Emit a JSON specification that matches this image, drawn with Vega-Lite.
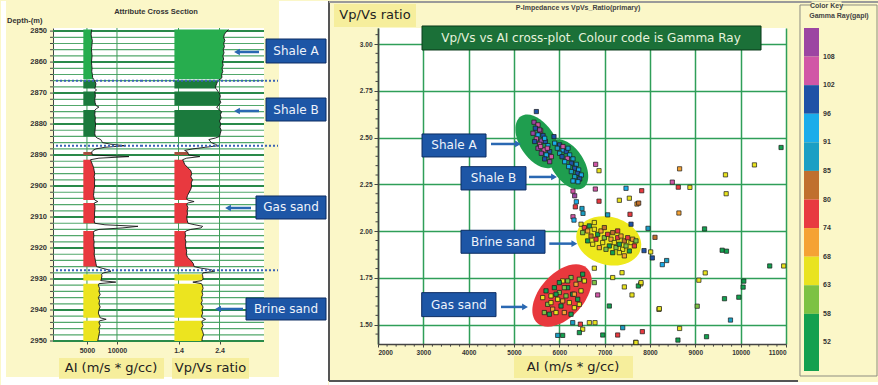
{
"$schema": "https://vega.github.io/schema/vega-lite/v6.json",
"background": "#fbf7c8",
"padding": 0,
"autosize": {"type": "pad"},
"bounds": "flush",
"spacing": 0,
"resolve": {"scale": {"color": "independent"}},
"config": {"view": {"stroke": null}, "axis": {"labelFont": "Liberation Sans", "labelFontWeight": "bold", "labelColor": "#333333", "domainColor": "#444444", "tickColor": "#444444"}},
"datasets": {
"logs": [
{"d":2849.5,"ai":5800,"vp":2.62,"seg":"A1","f":"shaleA"},
{"d":2850,"ai":5750,"vp":2.58,"seg":"A1","f":"shaleA"},
{"d":2851,"ai":5700,"vp":2.52,"seg":"A1","f":"shaleA"},
{"d":2852,"ai":5750,"vp":2.50,"seg":"A1","f":"shaleA"},
{"d":2853,"ai":5900,"vp":2.53,"seg":"A1","f":"shaleA"},
{"d":2854,"ai":5850,"vp":2.50,"seg":"A1","f":"shaleA"},
{"d":2855,"ai":5800,"vp":2.52,"seg":"A1","f":"shaleA"},
{"d":2856,"ai":5750,"vp":2.49,"seg":"A1","f":"shaleA"},
{"d":2857,"ai":5800,"vp":2.51,"seg":"A1","f":"shaleA"},
{"d":2858,"ai":5850,"vp":2.48,"seg":"A1","f":"shaleA"},
{"d":2859,"ai":5800,"vp":2.50,"seg":"A1","f":"shaleA"},
{"d":2860,"ai":5750,"vp":2.47,"seg":"A1","f":"shaleA"},
{"d":2861,"ai":5800,"vp":2.49,"seg":"A1","f":"shaleA"},
{"d":2862,"ai":5850,"vp":2.46,"seg":"A1","f":"shaleA"},
{"d":2863,"ai":5800,"vp":2.48,"seg":"A1","f":"shaleA"},
{"d":2864,"ai":5900,"vp":2.45,"seg":"A1","f":"shaleA"},
{"d":2865,"ai":5950,"vp":2.46,"seg":"A1","f":"shaleA"},
{"d":2865.5,"ai":6100,"vp":2.42,"seg":"A1","f":"shaleA"},
{"d":2866,"ai":6300,"vp":2.36,"seg":"B1","f":"shaleB"},
{"d":2867,"ai":6500,"vp":2.33,"seg":"B1","f":"shaleB"},
{"d":2868,"ai":6400,"vp":2.30,"seg":"B1","f":"shaleB"},
{"d":2868.5,"ai":6300,"vp":2.31,"seg":"B1","f":"shaleB"},
{"d":2869,"ai":6600,"vp":2.34,"seg":"none","f":"none"},
{"d":2869.5,"ai":6300,"vp":2.36,"seg":"B2","f":"shaleB"},
{"d":2870,"ai":6350,"vp":2.40,"seg":"B2","f":"shaleB"},
{"d":2871,"ai":6400,"vp":2.42,"seg":"B2","f":"shaleB"},
{"d":2872,"ai":6300,"vp":2.40,"seg":"B2","f":"shaleB"},
{"d":2873,"ai":6350,"vp":2.43,"seg":"B2","f":"shaleB"},
{"d":2874,"ai":6500,"vp":2.38,"seg":"B2","f":"shaleB"},
{"d":2874.5,"ai":7000,"vp":2.33,"seg":"none","f":"none"},
{"d":2875,"ai":6600,"vp":2.36,"seg":"none","f":"none"},
{"d":2875.5,"ai":6300,"vp":2.40,"seg":"B3","f":"shaleB"},
{"d":2876,"ai":6350,"vp":2.45,"seg":"B3","f":"shaleB"},
{"d":2877,"ai":6300,"vp":2.42,"seg":"B3","f":"shaleB"},
{"d":2878,"ai":6400,"vp":2.44,"seg":"B3","f":"shaleB"},
{"d":2879,"ai":6350,"vp":2.40,"seg":"B3","f":"shaleB"},
{"d":2880,"ai":6450,"vp":2.43,"seg":"B3","f":"shaleB"},
{"d":2881,"ai":6400,"vp":2.41,"seg":"B3","f":"shaleB"},
{"d":2882,"ai":6350,"vp":2.44,"seg":"B3","f":"shaleB"},
{"d":2883,"ai":6300,"vp":2.42,"seg":"B3","f":"shaleB"},
{"d":2884,"ai":6400,"vp":2.40,"seg":"B3","f":"shaleB"},
{"d":2884.5,"ai":6700,"vp":2.30,"seg":"none","f":"none"},
{"d":2885,"ai":7300,"vp":2.14,"seg":"none","f":"none"},
{"d":2886,"ai":7600,"vp":2.20,"seg":"none","f":"none"},
{"d":2886.5,"ai":9000,"vp":2.30,"seg":"none","f":"none"},
{"d":2887,"ai":11300,"vp":2.36,"seg":"none","f":"none"},
{"d":2887.5,"ai":8000,"vp":2.05,"seg":"none","f":"none"},
{"d":2888,"ai":6500,"vp":1.75,"seg":"none","f":"none"},
{"d":2888.5,"ai":6000,"vp":1.55,"seg":"none","f":"none"},
{"d":2889,"ai":5800,"vp":1.62,"seg":"M","f":"mix"},
{"d":2890,"ai":5900,"vp":1.65,"seg":"M","f":"mix"},
{"d":2890.5,"ai":12000,"vp":1.92,"seg":"none","f":"none"},
{"d":2891,"ai":7000,"vp":1.60,"seg":"none","f":"none"},
{"d":2891.5,"ai":5600,"vp":1.50,"seg":"G1","f":"gas"},
{"d":2892,"ai":5700,"vp":1.52,"seg":"G1","f":"gas"},
{"d":2893,"ai":5900,"vp":1.55,"seg":"G1","f":"gas"},
{"d":2894,"ai":6100,"vp":1.62,"seg":"G1","f":"gas"},
{"d":2895,"ai":6200,"vp":1.70,"seg":"G1","f":"gas"},
{"d":2896,"ai":6300,"vp":1.72,"seg":"G1","f":"gas"},
{"d":2897,"ai":6200,"vp":1.70,"seg":"G1","f":"gas"},
{"d":2898,"ai":6300,"vp":1.74,"seg":"G1","f":"gas"},
{"d":2899,"ai":6250,"vp":1.71,"seg":"G1","f":"gas"},
{"d":2900,"ai":6300,"vp":1.72,"seg":"G1","f":"gas"},
{"d":2901,"ai":6200,"vp":1.70,"seg":"G1","f":"gas"},
{"d":2902,"ai":6150,"vp":1.66,"seg":"G1","f":"gas"},
{"d":2903,"ai":6100,"vp":1.62,"seg":"G1","f":"gas"},
{"d":2904,"ai":6200,"vp":1.60,"seg":"G1","f":"gas"},
{"d":2904.5,"ai":6300,"vp":1.62,"seg":"G1","f":"gas"},
{"d":2905,"ai":6800,"vp":1.78,"seg":"none","f":"none"},
{"d":2905.5,"ai":6200,"vp":1.62,"seg":"G2","f":"gas"},
{"d":2906,"ai":6300,"vp":1.60,"seg":"G2","f":"gas"},
{"d":2907,"ai":6350,"vp":1.63,"seg":"G2","f":"gas"},
{"d":2908,"ai":6300,"vp":1.61,"seg":"G2","f":"gas"},
{"d":2909,"ai":6250,"vp":1.62,"seg":"G2","f":"gas"},
{"d":2910,"ai":6300,"vp":1.60,"seg":"G2","f":"gas"},
{"d":2911,"ai":6200,"vp":1.61,"seg":"G2","f":"gas"},
{"d":2912,"ai":6300,"vp":1.63,"seg":"G2","f":"gas"},
{"d":2912.5,"ai":8000,"vp":1.80,"seg":"none","f":"none"},
{"d":2913,"ai":13500,"vp":1.99,"seg":"none","f":"none"},
{"d":2913.5,"ai":11000,"vp":1.95,"seg":"none","f":"none"},
{"d":2914,"ai":7000,"vp":1.70,"seg":"none","f":"none"},
{"d":2914.5,"ai":6200,"vp":1.58,"seg":"G3","f":"gas"},
{"d":2915,"ai":6100,"vp":1.56,"seg":"G3","f":"gas"},
{"d":2916,"ai":6150,"vp":1.57,"seg":"G3","f":"gas"},
{"d":2917,"ai":6100,"vp":1.56,"seg":"G3","f":"gas"},
{"d":2918,"ai":6200,"vp":1.58,"seg":"G3","f":"gas"},
{"d":2919,"ai":6150,"vp":1.57,"seg":"G3","f":"gas"},
{"d":2920,"ai":6200,"vp":1.58,"seg":"G3","f":"gas"},
{"d":2921,"ai":6250,"vp":1.60,"seg":"G3","f":"gas"},
{"d":2922,"ai":6200,"vp":1.59,"seg":"G3","f":"gas"},
{"d":2923,"ai":6300,"vp":1.62,"seg":"G3","f":"gas"},
{"d":2924,"ai":6400,"vp":1.70,"seg":"G3","f":"gas"},
{"d":2925,"ai":6500,"vp":1.76,"seg":"G3","f":"gas"},
{"d":2926,"ai":6600,"vp":1.78,"seg":"G3","f":"gas"},
{"d":2926.5,"ai":7500,"vp":1.95,"seg":"none","f":"none"},
{"d":2927,"ai":8500,"vp":2.20,"seg":"none","f":"none"},
{"d":2927.5,"ai":9000,"vp":2.28,"seg":"none","f":"none"},
{"d":2928,"ai":7800,"vp":2.00,"seg":"none","f":"none"},
{"d":2928.5,"ai":7400,"vp":1.98,"seg":"Y1","f":"brine"},
{"d":2929,"ai":7500,"vp":1.99,"seg":"Y1","f":"brine"},
{"d":2930,"ai":7400,"vp":2.00,"seg":"Y1","f":"brine"},
{"d":2930.5,"ai":7300,"vp":1.97,"seg":"Y1","f":"brine"},
{"d":2931,"ai":9800,"vp":1.75,"seg":"none","f":"none"},
{"d":2931.5,"ai":7000,"vp":1.96,"seg":"Y2","f":"brine"},
{"d":2932,"ai":6900,"vp":1.98,"seg":"Y2","f":"brine"},
{"d":2933,"ai":7100,"vp":2.00,"seg":"Y2","f":"brine"},
{"d":2934,"ai":7000,"vp":1.97,"seg":"Y2","f":"brine"},
{"d":2935,"ai":7200,"vp":1.99,"seg":"Y2","f":"brine"},
{"d":2936,"ai":6900,"vp":1.96,"seg":"Y2","f":"brine"},
{"d":2937,"ai":7100,"vp":1.98,"seg":"Y2","f":"brine"},
{"d":2938,"ai":7000,"vp":1.95,"seg":"Y2","f":"brine"},
{"d":2939,"ai":7200,"vp":2.00,"seg":"Y2","f":"brine"},
{"d":2940,"ai":7000,"vp":1.97,"seg":"Y2","f":"brine"},
{"d":2941,"ai":6900,"vp":1.99,"seg":"Y2","f":"brine"},
{"d":2942,"ai":7100,"vp":1.96,"seg":"Y2","f":"brine"},
{"d":2942.5,"ai":7200,"vp":1.98,"seg":"Y2","f":"brine"},
{"d":2943,"ai":8200,"vp":2.06,"seg":"none","f":"none"},
{"d":2943.5,"ai":7100,"vp":1.98,"seg":"Y3","f":"brine"},
{"d":2944,"ai":7000,"vp":1.97,"seg":"Y3","f":"brine"},
{"d":2945,"ai":7200,"vp":2.00,"seg":"Y3","f":"brine"},
{"d":2946,"ai":7000,"vp":1.96,"seg":"Y3","f":"brine"},
{"d":2947,"ai":7100,"vp":1.99,"seg":"Y3","f":"brine"},
{"d":2948,"ai":7000,"vp":2.01,"seg":"Y3","f":"brine"},
{"d":2949,"ai":6900,"vp":1.98,"seg":"Y3","f":"brine"},
{"d":2950,"ai":6800,"vp":1.97,"seg":"Y3","f":"brine"}
],
"hgrid": [{"d":2850},{"d":2852},{"d":2854},{"d":2856},{"d":2858},{"d":2860},{"d":2862},{"d":2864},{"d":2866},{"d":2868},{"d":2870},{"d":2872},{"d":2874},{"d":2876},{"d":2878},{"d":2880},{"d":2882},{"d":2884},{"d":2886},{"d":2888},{"d":2890},{"d":2892},{"d":2894},{"d":2896},{"d":2898},{"d":2900},{"d":2902},{"d":2904},{"d":2906},{"d":2908},{"d":2910},{"d":2912},{"d":2914},{"d":2916},{"d":2918},{"d":2920},{"d":2922},{"d":2924},{"d":2926},{"d":2928},{"d":2930},{"d":2932},{"d":2934},{"d":2936},{"d":2938},{"d":2940},{"d":2942},{"d":2944},{"d":2946},{"d":2948},{"d":2950}],
"xMinor": [{"v":2200},{"v":2400},{"v":2600},{"v":2800},{"v":3200},{"v":3400},{"v":3600},{"v":3800},{"v":4200},{"v":4400},{"v":4600},{"v":4800},{"v":5200},{"v":5400},{"v":5600},{"v":5800},{"v":6200},{"v":6400},{"v":6600},{"v":6800},{"v":7200},{"v":7400},{"v":7600},{"v":7800},{"v":8200},{"v":8400},{"v":8600},{"v":8800},{"v":9200},{"v":9400},{"v":9600},{"v":9800},{"v":10200},{"v":10400},{"v":10600},{"v":10800}],
"yMinor": [{"v":1.45},{"v":1.55},{"v":1.6},{"v":1.65},{"v":1.7},{"v":1.8},{"v":1.85},{"v":1.9},{"v":1.95},{"v":2.05},{"v":2.1},{"v":2.15},{"v":2.2},{"v":2.3},{"v":2.35},{"v":2.4},{"v":2.45},{"v":2.55},{"v":2.6},{"v":2.65},{"v":2.7},{"v":2.8},{"v":2.85},{"v":2.9},{"v":2.95},{"v":3.05}],
"points": [
{"ai":5441,"vp":2.582,"gr":110},{"ai":5529,"vp":2.568,"gr":105},{"ai":5471,"vp":2.550,"gr":99},{"ai":5588,"vp":2.536,"gr":105},{"ai":5419,"vp":2.523,"gr":110},{"ai":5529,"vp":2.514,"gr":93},{"ai":5640,"vp":2.511,"gr":99},{"ai":5493,"vp":2.493,"gr":105},{"ai":5603,"vp":2.482,"gr":110},{"ai":5691,"vp":2.479,"gr":99},{"ai":5566,"vp":2.464,"gr":105},{"ai":5750,"vp":2.457,"gr":93},{"ai":5529,"vp":2.443,"gr":110},{"ai":5662,"vp":2.434,"gr":105},{"ai":5787,"vp":2.425,"gr":99},{"ai":5603,"vp":2.416,"gr":110},{"ai":5713,"vp":2.407,"gr":93},{"ai":5824,"vp":2.398,"gr":105},{"ai":5676,"vp":2.386,"gr":99},{"ai":5787,"vp":2.371,"gr":110},{"ai":5588,"vp":2.452,"gr":105},{"ai":5456,"vp":2.479,"gr":99},{"ai":5676,"vp":2.496,"gr":93},{"ai":5566,"vp":2.541,"gr":110},{"ai":5735,"vp":2.443,"gr":105},
{"ai":5897,"vp":2.470,"gr":93},{"ai":6007,"vp":2.461,"gr":99},{"ai":5956,"vp":2.443,"gr":88},{"ai":6081,"vp":2.434,"gr":93},{"ai":6154,"vp":2.425,"gr":99},{"ai":6007,"vp":2.416,"gr":88},{"ai":6228,"vp":2.407,"gr":93},{"ai":6059,"vp":2.398,"gr":99},{"ai":6176,"vp":2.389,"gr":105},{"ai":6301,"vp":2.386,"gr":88},{"ai":6118,"vp":2.371,"gr":93},{"ai":6265,"vp":2.363,"gr":99},{"ai":6375,"vp":2.357,"gr":88},{"ai":6206,"vp":2.345,"gr":93},{"ai":6338,"vp":2.336,"gr":99},{"ai":6426,"vp":2.327,"gr":93},{"ai":6265,"vp":2.318,"gr":88},{"ai":6397,"vp":2.309,"gr":99},{"ai":6485,"vp":2.300,"gr":93},{"ai":6338,"vp":2.291,"gr":88},{"ai":6449,"vp":2.279,"gr":99},{"ai":6301,"vp":2.268,"gr":93},{"ai":6081,"vp":2.452,"gr":105},{"ai":6191,"vp":2.443,"gr":88},{"ai":6412,"vp":2.264,"gr":93},
{"ai":6478,"vp":2.037,"gr":65},{"ai":6552,"vp":2.019,"gr":77},{"ai":6515,"vp":1.992,"gr":60},{"ai":6625,"vp":2.001,"gr":70},{"ai":6662,"vp":2.028,"gr":55},{"ai":6699,"vp":1.974,"gr":82},{"ai":6772,"vp":2.010,"gr":65},{"ai":6809,"vp":1.957,"gr":77},{"ai":6846,"vp":1.983,"gr":55},{"ai":6919,"vp":2.001,"gr":70},{"ai":6956,"vp":1.939,"gr":65},{"ai":6993,"vp":1.965,"gr":60},{"ai":7066,"vp":1.983,"gr":77},{"ai":7103,"vp":1.921,"gr":55},{"ai":7140,"vp":1.957,"gr":70},{"ai":7177,"vp":1.992,"gr":82},{"ai":7213,"vp":1.939,"gr":65},{"ai":7250,"vp":1.912,"gr":60},{"ai":7287,"vp":1.965,"gr":77},{"ai":7324,"vp":1.930,"gr":55},{"ai":7361,"vp":1.974,"gr":70},{"ai":7397,"vp":1.903,"gr":65},{"ai":7434,"vp":1.948,"gr":82},{"ai":7471,"vp":1.921,"gr":60},{"ai":7508,"vp":1.965,"gr":77},{"ai":7544,"vp":1.894,"gr":55},{"ai":7581,"vp":1.939,"gr":65},{"ai":7618,"vp":1.957,"gr":70},{"ai":7655,"vp":1.921,"gr":77},{"ai":7691,"vp":1.948,"gr":60},{"ai":6625,"vp":1.948,"gr":55},{"ai":6736,"vp":1.930,"gr":65},{"ai":6882,"vp":1.912,"gr":70},{"ai":7029,"vp":1.903,"gr":60},{"ai":7177,"vp":1.885,"gr":55},{"ai":7324,"vp":1.885,"gr":65},{"ai":7434,"vp":1.868,"gr":70},{"ai":7287,"vp":2.001,"gr":77},{"ai":6993,"vp":2.019,"gr":82},{"ai":6772,"vp":2.046,"gr":65},
{"ai":5633,"vp":1.645,"gr":65},{"ai":5706,"vp":1.681,"gr":55},{"ai":5743,"vp":1.609,"gr":60},{"ai":5816,"vp":1.654,"gr":65},{"ai":5853,"vp":1.583,"gr":70},{"ai":5890,"vp":1.698,"gr":55},{"ai":5963,"vp":1.636,"gr":65},{"ai":6000,"vp":1.672,"gr":60},{"ai":6037,"vp":1.600,"gr":55},{"ai":6074,"vp":1.734,"gr":65},{"ai":6110,"vp":1.565,"gr":70},{"ai":6147,"vp":1.654,"gr":60},{"ai":6184,"vp":1.698,"gr":55},{"ai":6221,"vp":1.618,"gr":65},{"ai":6258,"vp":1.752,"gr":60},{"ai":6294,"vp":1.663,"gr":55},{"ai":6331,"vp":1.591,"gr":65},{"ai":6368,"vp":1.716,"gr":70},{"ai":6405,"vp":1.636,"gr":55},{"ai":6441,"vp":1.743,"gr":60},{"ai":6478,"vp":1.681,"gr":65},{"ai":6515,"vp":1.770,"gr":55},{"ai":6552,"vp":1.734,"gr":65},{"ai":5669,"vp":1.565,"gr":60},{"ai":5780,"vp":1.556,"gr":55},{"ai":5927,"vp":1.565,"gr":65},{"ai":6074,"vp":1.627,"gr":70},{"ai":6258,"vp":1.556,"gr":55},{"ai":6110,"vp":1.698,"gr":60},{"ai":6441,"vp":1.609,"gr":65},{"ai":6000,"vp":1.725,"gr":55},{"ai":5816,"vp":1.618,"gr":65},{"ai":6184,"vp":1.734,"gr":60},{"ai":6331,"vp":1.663,"gr":70},{"ai":5927,"vp":1.663,"gr":55},
{"ai":10891,"vp":2.447,"gr":55},{"ai":10304,"vp":2.354,"gr":65},{"ai":9665,"vp":2.301,"gr":65},{"ai":9680,"vp":2.200,"gr":66},{"ai":8653,"vp":2.333,"gr":70},{"ai":8492,"vp":2.262,"gr":104},{"ai":8624,"vp":2.235,"gr":78},{"ai":8880,"vp":2.234,"gr":64},{"ai":7817,"vp":2.216,"gr":77},{"ai":8638,"vp":2.097,"gr":69},{"ai":9203,"vp":2.012,"gr":55},{"ai":7956,"vp":2.015,"gr":88},{"ai":8110,"vp":1.967,"gr":82},{"ai":7868,"vp":1.896,"gr":98},{"ai":8051,"vp":1.857,"gr":97},{"ai":8015,"vp":1.889,"gr":64},{"ai":8271,"vp":1.821,"gr":94},{"ai":8367,"vp":1.843,"gr":88},{"ai":9592,"vp":1.898,"gr":56},{"ai":9687,"vp":1.893,"gr":56},{"ai":10641,"vp":1.814,"gr":57},{"ai":10949,"vp":1.814,"gr":65},{"ai":9218,"vp":1.777,"gr":64},{"ai":9078,"vp":1.738,"gr":66},{"ai":10069,"vp":1.733,"gr":54},{"ai":10054,"vp":1.701,"gr":55},{"ai":9959,"vp":1.647,"gr":57},{"ai":9643,"vp":1.639,"gr":56},{"ai":7795,"vp":1.718,"gr":64},{"ai":8198,"vp":1.582,"gr":63},{"ai":9042,"vp":1.599,"gr":60},{"ai":9775,"vp":1.525,"gr":90},{"ai":8653,"vp":1.480,"gr":65},{"ai":7831,"vp":1.463,"gr":76},{"ai":8616,"vp":1.418,"gr":55},{"ai":9247,"vp":1.436,"gr":56},{"ai":7685,"vp":1.406,"gr":64},
{"ai":5493,"vp":2.639,"gr":98},{"ai":5882,"vp":2.505,"gr":97},{"ai":6801,"vp":2.357,"gr":104},{"ai":6875,"vp":2.323,"gr":65},{"ai":6794,"vp":2.225,"gr":104},{"ai":6875,"vp":2.160,"gr":77},{"ai":7471,"vp":2.229,"gr":93},{"ai":7324,"vp":2.165,"gr":66},{"ai":7544,"vp":2.176,"gr":65},{"ai":7713,"vp":2.145,"gr":72},{"ai":7750,"vp":2.150,"gr":82},{"ai":7559,"vp":2.090,"gr":78},{"ai":7067,"vp":2.087,"gr":88},{"ai":7581,"vp":2.037,"gr":97},{"ai":6301,"vp":2.214,"gr":104},{"ai":6338,"vp":2.189,"gr":110},{"ai":6375,"vp":2.157,"gr":93},{"ai":6353,"vp":2.130,"gr":77},{"ai":6301,"vp":2.077,"gr":104},{"ai":6522,"vp":2.095,"gr":90},{"ai":6500,"vp":2.121,"gr":86},{"ai":6323,"vp":2.059,"gr":92},{"ai":6772,"vp":1.802,"gr":64},{"ai":7177,"vp":1.752,"gr":65},{"ai":7383,"vp":1.778,"gr":66},{"ai":7434,"vp":1.702,"gr":64},{"ai":7743,"vp":1.707,"gr":57},{"ai":7802,"vp":1.725,"gr":63},{"ai":7603,"vp":1.659,"gr":66},{"ai":6846,"vp":1.659,"gr":104},{"ai":6772,"vp":1.725,"gr":60},{"ai":7103,"vp":1.600,"gr":55},{"ai":8206,"vp":1.586,"gr":63},{"ai":6662,"vp":1.511,"gr":64},{"ai":6787,"vp":1.511,"gr":63},{"ai":6464,"vp":1.503,"gr":76},{"ai":6515,"vp":1.476,"gr":64},{"ai":6442,"vp":1.458,"gr":55},{"ai":6295,"vp":1.511,"gr":86},{"ai":5964,"vp":1.443,"gr":85},{"ai":6074,"vp":1.443,"gr":57},{"ai":6957,"vp":1.445,"gr":56},{"ai":7287,"vp":1.445,"gr":77},{"ai":7398,"vp":1.484,"gr":87},{"ai":7691,"vp":1.405,"gr":64}
],
"ellipses": [{"name":"shaleA","ai":5515,"vp":2.480},{"name":"shaleB","ai":6191,"vp":2.357},{"name":"brine","ai":7090,"vp":1.948},{"name":"gas","ai":6059,"vp":1.656}],
"xpLabels": [
{"label":"Shale A","x1":2971,"x2":4383,"y1":2.5193,"y2":2.3964,"xc":3677,"yc":2.4578,"ax1":4493,"ax2":5088,"ay":2.4658},
{"label":"Shale B","x1":3831,"x2":5265,"y1":2.3446,"y2":2.2201,"xc":4548,"yc":2.2826,"ax1":5331,"ax2":5883,"ay":2.2896},
{"label":"Brine sand","x1":3831,"x2":5684,"y1":2.0048,"y2":1.8819,"xc":4758,"yc":1.9434,"ax1":5779,"ax2":6331,"ay":1.9333},
{"label":"Gas sand","x1":2964,"x2":4603,"y1":1.6715,"y2":1.5433,"xc":3783,"yc":1.6074,"ax1":4713,"ax2":5243,"ay":1.5951}
],
"logLabels": [
{"label":"Shale A","x1":3.534,"x2":4.997,"y1":2852.55,"y2":2860.29,"xc":4.265,"yc":2856.42,"ax1":3.363,"ax2":2.826,"ay":2856.74},
{"label":"Shale B","x1":3.534,"x2":4.997,"y1":2871.59,"y2":2879.01,"xc":4.265,"yc":2875.30,"ax1":3.363,"ax2":2.826,"ay":2875.78},
{"label":"Gas sand","x1":3.29,"x2":4.997,"y1":2903.21,"y2":2910.63,"xc":4.143,"yc":2906.92,"ax1":3.168,"ax2":2.607,"ay":2907.08},
{"label":"Brine sand","x1":3.046,"x2":4.997,"y1":2936.12,"y2":2943.22,"xc":4.02,"yc":2939.67,"ax1":2.973,"ax2":2.363,"ay":2939.67}
],
"keySeg": [{"lo":11,"hi":12,"gr":111},{"lo":10,"hi":11,"gr":105},{"lo":9,"hi":10,"gr":99},{"lo":8,"hi":9,"gr":93},{"lo":7,"hi":8,"gr":88},{"lo":6,"hi":7,"gr":82},{"lo":5,"hi":6,"gr":77},{"lo":4,"hi":5,"gr":70},{"lo":3,"hi":4,"gr":65},{"lo":2,"hi":3,"gr":60},{"lo":0,"hi":2,"gr":52}],
"keyLab": [{"pos":11,"lab":"108"},{"pos":10,"lab":"102"},{"pos":9,"lab":"96"},{"pos":8,"lab":"91"},{"pos":7,"lab":"85"},{"pos":6,"lab":"80"},{"pos":5,"lab":"74"},{"pos":4,"lab":"68"},{"pos":3,"lab":"63"},{"pos":2,"lab":"58"},{"pos":1,"lab":"52"}]
},
"hconcat": [
{
"width": 88, "height": 313,
"view": {"fill": "white", "stroke": null},
"layer": [
{"data": {"values": [{}]}, "mark": {"type": "rect", "fill": "white"}, "encoding": {"x": {"datum": -9308, "type": "quantitative"}, "x2": {"datum": -8476}, "y": {"datum": 2840.29, "type": "quantitative"}, "y2": {"datum": 2964.48}}},
{"data": {"values": [{}]}, "mark": {"type": "rect", "fill": "white"}, "encoding": {"x": {"datum": -9308, "type": "quantitative"}, "x2": {"datum": 36979}, "y": {"datum": 2961.58, "type": "quantitative"}, "y2": {"datum": 2964.48}}},
{"data": {"name": "hgrid"}, "transform": [{"filter": "datum.d % 10 !== 0"}], "mark": {"type": "rule", "stroke": "#52a86b", "strokeWidth": 1.2}, "encoding": {"y": {"field": "d", "type": "quantitative"}}},
{"data": {"name": "hgrid"}, "transform": [{"filter": "datum.d % 10 === 0"}], "mark": {"type": "rule", "stroke": "#2a8a4a", "strokeWidth": 2}, "encoding": {"y": {"field": "d", "type": "quantitative"}}},
{"data": {"name": "hgrid"}, "mark": {"type": "rule", "stroke": "#444444", "strokeWidth": 1}, "encoding": {"y": {"field": "d", "type": "quantitative"}, "x": {"datum": -1150, "type": "quantitative"}, "x2": {"datum": -650}}},
{"data": {"name": "hgrid"}, "transform": [{"filter": "datum.d % 10 === 0"}], "mark": {"type": "text", "align": "right", "baseline": "middle", "font": "Liberation Sans", "fontWeight": "bold", "fontSize": 7.5, "color": "#333333"}, "encoding": {"y": {"field": "d", "type": "quantitative"}, "x": {"datum": -1650, "type": "quantitative"}, "text": {"field": "d", "type": "quantitative", "format": "d"}}},
{"data": {"values": [{"ai": 5000}, {"ai": 10000}]}, "mark": {"type": "rule", "stroke": "#3f9c5a", "strokeWidth": 1}, "encoding": {"x": {"field": "ai", "type": "quantitative"}}},
{"data": {"name": "logs"}, "transform": [{"filter": "datum.seg !== 'none'"}], "mark": {"type": "area", "orient": "horizontal", "opacity": 1},
 "encoding": {
  "x": {"field": "ai", "type": "quantitative", "stack": null, "scale": {"domain": [-650, 14000], "nice": false, "zero": false}, "axis": {"values": [5000, 10000], "format": "d", "title": null, "grid": false, "domain": false, "tickSize": 3, "labelFontSize": 7, "labelPadding": 2}},
  "x2": {"datum": 4400},
  "y": {"field": "d", "type": "quantitative", "stack": null, "scale": {"domain": [2849, 2950], "nice": false, "zero": false, "reverse": true}, "axis": {"values": [2850, 2950], "labels": false, "ticks": false, "title": null, "grid": false, "domain": true}},
  "color": {"field": "f", "type": "nominal", "scale": {"domain": ["shaleA", "shaleB", "mix", "gas", "brine"], "range": ["#27ad4e", "#1b7a3d", "#a5503e", "#e8393f", "#ece41f"]}, "legend": null},
  "detail": {"field": "seg", "type": "nominal"}
 }},
{"data": {"name": "logs"}, "mark": {"type": "line", "stroke": "#151515", "strokeWidth": 0.9}, "encoding": {"x": {"field": "ai", "type": "quantitative"}, "y": {"field": "d", "type": "quantitative"}, "order": {"field": "d", "type": "quantitative"}}},
{"data": {"values": [{"d": 2866}, {"d": 2887}, {"d": 2927.2}]}, "mark": {"type": "rule", "stroke": "#3a62b6", "strokeWidth": 2, "strokeDash": [2, 2]}, "encoding": {"x": {"datum": -150, "type": "quantitative"}, "x2": {"datum": 14000}, "y": {"field": "d", "type": "quantitative"}}},
{"data": {"values": [{}]}, "mark": {"type": "text", "text": "Depth-(m)", "align": "left", "baseline": "middle", "font": "Liberation Sans", "fontWeight": "bold", "fontSize": 7.5, "color": "#333333"}, "encoding": {"x": {"datum": -8309, "type": "quantitative"}, "y": {"datum": 2846.9, "type": "quantitative"}}},
{"data": {"values": [{}]}, "mark": {"type": "rect", "fill": "#f6ee9c"}, "encoding": {"x": {"datum": 349, "type": "quantitative"}, "x2": {"datum": 17832}, "y": {"datum": 2955.45, "type": "quantitative"}, "y2": {"datum": 2962.2}}},
{"data": {"values": [{}]}, "mark": {"type": "text", "text": "AI (m/s * g/cc)", "align": "center", "baseline": "middle", "font": "DejaVu Sans", "fontSize": 13, "color": "#222222"}, "encoding": {"x": {"datum": 9007, "type": "quantitative"}, "y": {"datum": 2958.8, "type": "quantitative"}}}
]
},
{
"width": 237, "height": 313,
"view": {"stroke": null},
"layer": [
{"data": {"values": [{}]}, "mark": {"type": "rect", "fill": "white"}, "encoding": {"x": {"datum": 0.485, "type": "quantitative"}, "x2": {"datum": 3.485}, "y": {"datum": 2849, "type": "quantitative"}, "y2": {"datum": 2950}}},
{"data": {"values": [{}]}, "mark": {"type": "rect", "fill": "white"}, "encoding": {"x": {"datum": 3.851, "type": "quantitative"}, "x2": {"datum": 5.046}, "y": {"datum": 2840.29, "type": "quantitative"}, "y2": {"datum": 2964.48}}},
{"data": {"values": [{}]}, "mark": {"type": "rule", "stroke": "#555555", "strokeWidth": 2}, "encoding": {"x": {"datum": 5.07, "type": "quantitative"}, "y": {"datum": 2840.29, "type": "quantitative"}, "y2": {"datum": 2962.87}}},
{"data": {"name": "hgrid"}, "transform": [{"filter": "datum.d % 10 !== 0"}], "mark": {"type": "rule", "stroke": "#52a86b", "strokeWidth": 1.2}, "encoding": {"x": {"datum": 0.485, "type": "quantitative"}, "x2": {"datum": 3.485}, "y": {"field": "d", "type": "quantitative"}}},
{"data": {"name": "hgrid"}, "transform": [{"filter": "datum.d % 10 === 0"}], "mark": {"type": "rule", "stroke": "#2a8a4a", "strokeWidth": 2}, "encoding": {"x": {"datum": 0.485, "type": "quantitative"}, "x2": {"datum": 3.485}, "y": {"field": "d", "type": "quantitative"}}},
{"data": {"values": [{"vp": 1.4}, {"vp": 2.4}]}, "mark": {"type": "rule", "stroke": "#3f9c5a", "strokeWidth": 1}, "encoding": {"x": {"field": "vp", "type": "quantitative"}, "y": {"datum": 2849, "type": "quantitative"}, "y2": {"datum": 2950}}},
{"data": {"name": "logs"}, "transform": [{"filter": "datum.seg !== 'none'"}], "mark": {"type": "area", "orient": "horizontal", "opacity": 1},
 "encoding": {
  "x": {"field": "vp", "type": "quantitative", "stack": null, "scale": {"domain": [0.485, 6.265], "nice": false, "zero": false}, "axis": {"values": [1.4, 2.4], "format": ".1f", "title": null, "grid": false, "domain": false, "tickSize": 3, "labelFontSize": 7, "labelPadding": 2}},
  "x2": {"datum": 1.30},
  "y": {"field": "d", "type": "quantitative", "stack": null, "scale": {"domain": [2849, 2950], "nice": false, "zero": false, "reverse": true}, "axis": {"title": null, "labels": false, "ticks": false, "domain": false, "grid": false}},
  "color": {"field": "f", "type": "nominal", "scale": {"domain": ["shaleA", "shaleB", "mix", "gas", "brine"], "range": ["#27ad4e", "#1b7a3d", "#a5503e", "#e8393f", "#ece41f"]}, "legend": null},
  "detail": {"field": "seg", "type": "nominal"}
 }},
{"data": {"name": "logs"}, "mark": {"type": "line", "stroke": "#151515", "strokeWidth": 0.9}, "encoding": {"x": {"field": "vp", "type": "quantitative"}, "y": {"field": "d", "type": "quantitative"}, "order": {"field": "d", "type": "quantitative"}}},
{"data": {"values": [{"d": 2866}, {"d": 2887}, {"d": 2927.2}]}, "mark": {"type": "rule", "stroke": "#3a62b6", "strokeWidth": 2, "strokeDash": [2, 2]}, "encoding": {"x": {"datum": 0.485, "type": "quantitative"}, "x2": {"datum": 3.826}, "y": {"field": "d", "type": "quantitative"}}},
{"data": {"values": [{}]}, "mark": {"type": "text", "text": "Attribute Cross Section", "align": "center", "baseline": "middle", "font": "Liberation Sans", "fontWeight": "bold", "fontSize": 7.5, "color": "#333333"}, "encoding": {"x": {"datum": 0.851, "type": "quantitative"}, "y": {"datum": 2843.68, "type": "quantitative"}}},
{"data": {"values": [{}]}, "mark": {"type": "rect", "fill": "#f6ee9c"}, "encoding": {"x": {"datum": 1.241, "type": "quantitative"}, "x2": {"datum": 3.119}, "y": {"datum": 2955.45, "type": "quantitative"}, "y2": {"datum": 2962.2}}},
{"data": {"values": [{}]}, "mark": {"type": "text", "text": "Vp/Vs ratio", "align": "center", "baseline": "middle", "font": "DejaVu Sans", "fontSize": 13, "color": "#222222"}, "encoding": {"x": {"datum": 2.18, "type": "quantitative"}, "y": {"datum": 2958.8, "type": "quantitative"}}},
{"data": {"name": "logLabels"}, "mark": {"type": "rect", "fill": "#1d56a6", "stroke": "#0d2c62", "strokeWidth": 1}, "encoding": {"x": {"field": "x1", "type": "quantitative"}, "x2": {"field": "x2"}, "y": {"field": "y1", "type": "quantitative"}, "y2": {"field": "y2"}}},
{"data": {"name": "logLabels"}, "mark": {"type": "text", "align": "center", "baseline": "middle", "font": "DejaVu Sans", "fontSize": 12, "color": "#eef3fb"}, "encoding": {"x": {"field": "xc", "type": "quantitative"}, "y": {"field": "yc", "type": "quantitative"}, "text": {"field": "label", "type": "nominal"}}},
{"data": {"name": "logLabels"}, "mark": {"type": "rule", "stroke": "#2a68b2", "strokeWidth": 2.5}, "encoding": {"x": {"field": "ax1", "type": "quantitative"}, "x2": {"field": "ax2"}, "y": {"field": "ay", "type": "quantitative"}}},
{"data": {"name": "logLabels"}, "mark": {"type": "point", "shape": "triangle-left", "filled": true, "size": 45, "color": "#2a68b2", "opacity": 1}, "encoding": {"x": {"field": "ax2", "type": "quantitative"}, "y": {"field": "ay", "type": "quantitative"}}}
]
},
{
"width": 408, "height": 316,
"view": {"fill": "white", "stroke": null},
"layer": [
{"data": {"values": [{}]}, "mark": {"type": "rect", "fill": "white"}, "encoding": {"x": {"datum": 919, "type": "quantitative"}, "x2": {"datum": 13052}, "y": {"datum": 1.1940, "type": "quantitative"}, "y2": {"datum": 1.1726}}},
{"data": {"values": [{}]}, "mark": {"type": "rule", "stroke": "#555555", "strokeWidth": 2}, "encoding": {"x": {"datum": 919, "type": "quantitative"}, "x2": {"datum": 11265}, "y": {"datum": 1.1993, "type": "quantitative"}}},
{"data": {"values": [{}]}, "mark": {"type": "rule", "stroke": "#9a9a9a", "strokeWidth": 2}, "encoding": {"x": {"datum": 919, "type": "quantitative"}, "x2": {"datum": 13052}, "y": {"datum": 3.2244, "type": "quantitative"}}},
{"data": {"name": "xMinor"}, "mark": {"type": "rule", "stroke": "#444444", "strokeWidth": 1}, "encoding": {"x": {"field": "v", "type": "quantitative"}, "y": {"datum": 1.397, "type": "quantitative"}, "y2": {"datum": 1.383}}},
{"data": {"name": "yMinor"}, "mark": {"type": "rule", "stroke": "#444444", "strokeWidth": 1}, "encoding": {"y": {"field": "v", "type": "quantitative"}, "x": {"datum": 2000, "type": "quantitative"}, "x2": {"datum": 1945}}},
{"data": {"name": "ellipses"}, "transform": [{"filter": "datum.name === 'shaleA'"}], "mark": {"type": "point", "shape": "M -1 0 A 1 0.583 0 1 1 1 0 A 1 0.583 0 1 1 -1 0 Z", "size": 3600, "angle": 57, "filled": true, "fill": "#1f9e4f", "opacity": 1, "strokeWidth": 0}, "encoding": {"x": {"field": "ai", "type": "quantitative"}, "y": {"field": "vp", "type": "quantitative"}}},
{"data": {"name": "ellipses"}, "transform": [{"filter": "datum.name === 'shaleB'"}], "mark": {"type": "point", "shape": "M -1 0 A 1 0.571 0 1 1 1 0 A 1 0.571 0 1 1 -1 0 Z", "size": 3136, "angle": 57, "filled": true, "fill": "#1f9e4f", "opacity": 1, "strokeWidth": 0}, "encoding": {"x": {"field": "ai", "type": "quantitative"}, "y": {"field": "vp", "type": "quantitative"}}},
{"data": {"name": "ellipses"}, "transform": [{"filter": "datum.name === 'brine'"}], "mark": {"type": "point", "shape": "M -1 0 A 1 0.727 0 1 1 1 0 A 1 0.727 0 1 1 -1 0 Z", "size": 4356, "angle": 15, "filled": true, "fill": "#eee91d", "opacity": 1, "strokeWidth": 0}, "encoding": {"x": {"field": "ai", "type": "quantitative"}, "y": {"field": "vp", "type": "quantitative"}}},
{"data": {"name": "ellipses"}, "transform": [{"filter": "datum.name === 'gas'"}], "mark": {"type": "point", "shape": "M -1 0 A 1 0.595 0 1 1 1 0 A 1 0.595 0 1 1 -1 0 Z", "size": 5476, "angle": -48, "filled": true, "fill": "#e8383d", "opacity": 1, "strokeWidth": 0}, "encoding": {"x": {"field": "ai", "type": "quantitative"}, "y": {"field": "vp", "type": "quantitative"}}},
{"data": {"name": "points"}, "mark": {"type": "point", "shape": "square", "filled": true, "size": 18, "stroke": "#1a1a1a", "strokeWidth": 0.7, "opacity": 1},
 "encoding": {
  "x": {"field": "ai", "type": "quantitative", "scale": {"domain": [2000, 11000], "nice": false, "zero": false}, "axis": {"values": [2000,3000,4000,5000,6000,7000,8000,9000,10000,11000], "format": "d", "title": null, "grid": true, "gridColor": "#2f9e58", "gridWidth": 1.5, "gridOpacity": 1, "domainWidth": 1.5, "tickSize": 3, "labelFontSize": 6.5, "labelPadding": 2}},
  "y": {"field": "vp", "type": "quantitative", "scale": {"domain": [1.397, 3.0855], "nice": false, "zero": false}, "axis": {"values": [1.5, 1.75, 2, 2.25, 2.5, 2.75, 3], "format": ".2f", "title": null, "grid": true, "gridColor": "#2f9e58", "gridWidth": 1.5, "gridOpacity": 1, "domainWidth": 1.5, "tickSize": 4, "labelFontSize": 6.5, "labelPadding": 2}},
  "color": {"field": "gr", "type": "quantitative", "scale": {"type": "threshold", "domain": [58, 63, 68, 74, 80, 85, 91, 96, 102, 108], "range": ["#13a04f", "#7dc243", "#e9e31f", "#f5a234", "#e83a40", "#c0702e", "#1a9fc4", "#1badea", "#1f52a6", "#d157a6", "#9c45a2"]}, "legend": null}
 }},
{"data": {"values": [{}]}, "mark": {"type": "rect", "fill": "#1b7038", "stroke": "#0a3a1a", "strokeWidth": 1}, "encoding": {"x": {"datum": 2971, "type": "quantitative"}, "x2": {"datum": 10449}, "y": {"datum": 3.0962, "type": "quantitative"}, "y2": {"datum": 2.968}}},
{"data": {"values": [{}]}, "mark": {"type": "text", "text": "Vp/Vs vs  AI cross-plot. Colour code is Gamma Ray", "align": "center", "baseline": "middle", "font": "DejaVu Sans", "fontSize": 12, "color": "#e6f2dc"}, "encoding": {"x": {"datum": 6699, "type": "quantitative"}, "y": {"datum": 3.0321, "type": "quantitative"}}},
{"data": {"name": "xpLabels"}, "mark": {"type": "rect", "fill": "#1d56a6", "stroke": "#0d2c62", "strokeWidth": 1}, "encoding": {"x": {"field": "x1", "type": "quantitative"}, "x2": {"field": "x2"}, "y": {"field": "y1", "type": "quantitative"}, "y2": {"field": "y2"}}},
{"data": {"name": "xpLabels"}, "mark": {"type": "text", "align": "center", "baseline": "middle", "font": "DejaVu Sans", "fontSize": 12, "color": "#eef3fb"}, "encoding": {"x": {"field": "xc", "type": "quantitative"}, "y": {"field": "yc", "type": "quantitative"}, "text": {"field": "label", "type": "nominal"}}},
{"data": {"name": "xpLabels"}, "mark": {"type": "rule", "stroke": "#2a68b2", "strokeWidth": 2.5}, "encoding": {"x": {"field": "ax1", "type": "quantitative"}, "x2": {"field": "ax2"}, "y": {"field": "ay", "type": "quantitative"}}},
{"data": {"name": "xpLabels"}, "mark": {"type": "point", "shape": "triangle-right", "filled": true, "size": 45, "color": "#2a68b2", "opacity": 1}, "encoding": {"x": {"field": "ax2", "type": "quantitative"}, "y": {"field": "ay", "type": "quantitative"}}},
{"data": {"values": [{}]}, "mark": {"type": "rect", "fill": "#f6ee9c"}, "encoding": {"x": {"datum": 1029, "type": "quantitative"}, "x2": {"datum": 2838}, "y": {"datum": 3.2137, "type": "quantitative"}, "y2": {"datum": 3.0908}}},
{"data": {"values": [{}]}, "mark": {"type": "text", "text": "Vp/Vs ratio", "align": "center", "baseline": "middle", "font": "DejaVu Sans", "fontSize": 13, "color": "#222222"}, "encoding": {"x": {"datum": 1934, "type": "quantitative"}, "y": {"datum": 3.1523, "type": "quantitative"}}},
{"data": {"values": [{}]}, "mark": {"type": "rect", "fill": "#f6ee9c"}, "encoding": {"x": {"datum": 5000, "type": "quantitative"}, "x2": {"datum": 7625}, "y": {"datum": 1.3333, "type": "quantitative"}, "y2": {"datum": 1.2158}}},
{"data": {"values": [{}]}, "mark": {"type": "text", "text": "AI (m/s * g/cc)", "align": "center", "baseline": "middle", "font": "DejaVu Sans", "fontSize": 13, "color": "#222222"}, "encoding": {"x": {"datum": 6302, "type": "quantitative"}, "y": {"datum": 1.2746, "type": "quantitative"}}},
{"data": {"values": [{}]}, "mark": {"type": "text", "text": "P-Impedance vs VpVs_Ratio(primary)", "align": "center", "baseline": "middle", "font": "Liberation Sans", "fontWeight": "bold", "fontSize": 7, "color": "#444444"}, "encoding": {"x": {"datum": 6412, "type": "quantitative"}, "y": {"datum": 3.1924, "type": "quantitative"}}}
]
},
{
"width": 93, "height": 343,
"view": {"stroke": null},
"layer": [
{"data": {"values": [{}]}, "mark": {"type": "rect", "filled": false, "stroke": "#8d8d80", "strokeWidth": 1}, "encoding": {"x": {"datum": -0.267, "type": "quantitative"}, "x2": {"datum": 4.867}, "y": {"datum": -0.175, "type": "quantitative"}, "y2": {"datum": 12.805}}},
{"data": {"values": [{}]}, "mark": {"type": "rect", "fill": "#fbf7c8"}, "encoding": {"x": {"datum": 0.5, "type": "quantitative"}, "x2": {"datum": 2.5}, "y": {"datum": 12.6, "type": "quantitative"}, "y2": {"datum": 12.93}}},
{"data": {"name": "keySeg"}, "mark": {"type": "rect"},
 "encoding": {
  "x": {"datum": 0, "type": "quantitative", "scale": {"domain": [-1.2, 5.0], "nice": false, "zero": false}, "axis": {"title": null, "labels": false, "ticks": false, "domain": false, "grid": false}},
  "x2": {"datum": 1},
  "y": {"field": "lo", "type": "quantitative", "scale": {"domain": [0, 12], "nice": false, "zero": false}, "axis": {"title": null, "labels": false, "ticks": false, "domain": false, "grid": false}},
  "y2": {"field": "hi"},
  "color": {"field": "gr", "type": "quantitative", "scale": {"type": "threshold", "domain": [58, 63, 68, 74, 80, 85, 91, 96, 102, 108], "range": ["#13a04f", "#7dc243", "#e9e31f", "#f5a234", "#e83a40", "#c0702e", "#1a9fc4", "#1badea", "#1f52a6", "#d157a6", "#9c45a2"]}, "legend": null}
 }},
{"data": {"name": "keyLab"}, "mark": {"type": "text", "align": "left", "baseline": "middle", "font": "Liberation Sans", "fontWeight": "bold", "fontSize": 7, "color": "#333333"}, "encoding": {"x": {"datum": 1.27, "type": "quantitative"}, "y": {"field": "pos", "type": "quantitative"}, "text": {"field": "lab", "type": "nominal"}}},
{"data": {"values": [{}]}, "mark": {"type": "text", "text": "Color Key", "align": "center", "baseline": "middle", "font": "Liberation Sans", "fontWeight": "bold", "fontSize": 7, "color": "#444444"}, "encoding": {"x": {"datum": 1.5, "type": "quantitative"}, "y": {"datum": 12.77, "type": "quantitative"}}},
{"data": {"values": [{}]}, "mark": {"type": "text", "text": "Gamma Ray(gapi)", "align": "center", "baseline": "middle", "font": "Liberation Sans", "fontWeight": "bold", "fontSize": 7, "color": "#444444"}, "encoding": {"x": {"datum": 2.33, "type": "quantitative"}, "y": {"datum": 12.42, "type": "quantitative"}}}
]
}
]
}
